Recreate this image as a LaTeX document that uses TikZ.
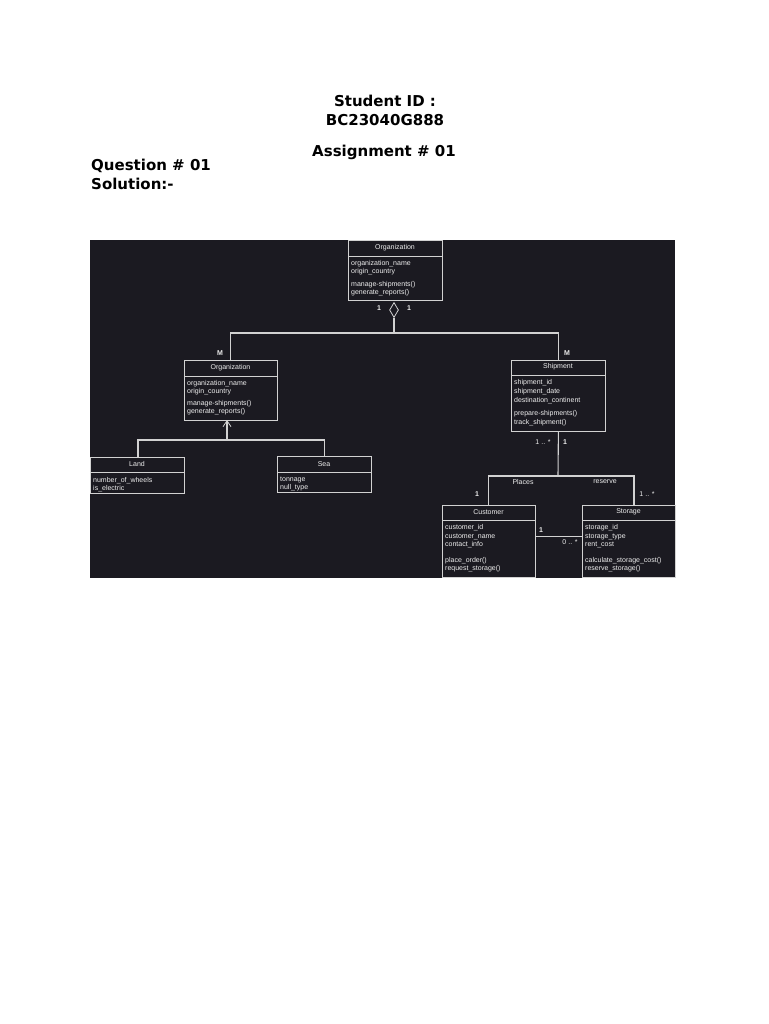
\documentclass[tikz,border=0pt]{standalone}
\usepackage{fontspec}
\setmainfont{DejaVu Sans}
\newfontfamily\umlfont{Liberation Sans}
\usetikzlibrary{shapes.geometric,arrows.meta,calc}
\definecolor{panel}{HTML}{1B1A21}
\definecolor{edge}{HTML}{D2D2D2}
\definecolor{ink}{HTML}{EEEEEE}
\begin{document}
\begin{tikzpicture}[x=1pt,y=-1pt,
 cls/.style={draw=edge,line width=0.8pt,rectangle,inner sep=0pt,anchor=north west},
 sepline/.style={draw=edge,line width=0.8pt},
 ttl/.style={font=\umlfont\fontsize{7}{8}\selectfont,text=ink,inner sep=0pt},
 mem/.style={font=\umlfont\fontsize{7}{8}\selectfont,text=ink,inner sep=0pt,anchor=west},
 lab/.style={font=\umlfont\fontsize{7}{8}\selectfont,text=ink,inner sep=0pt},
 blab/.style={font=\umlfont\bfseries\fontsize{7}{8}\selectfont,text=ink,inner sep=0pt},
 conn/.style={draw=edge,line width=1.1pt},
 head/.style={font=\bfseries\fontsize{15}{18}\selectfont,inner sep=0pt,text=black}]
\useasboundingbox (0,0) rectangle (768,1024);
\fill[white] (0,0) rectangle (768,1024);

% header
\node[head] (h1) at (385,101) {Student ID :};
\node[head] (h2) at (385,120) {BC23040G888};
\node[head] (h3) at (384,152) {Assignment \# 01};
\node[head,anchor=west] (h4) at (91,166) {Question \# 01};
\node[head,anchor=west] (h5) at (91,184) {Solution:-};

% panel
\fill[panel] (90,240) rectangle (675,578);

% top Organization
\node[cls,minimum width=94pt,minimum height=60pt] (org) at (348,240) {};
\draw[sepline] (348,256) -- (442,256);
\node[ttl] (orgT) at (395,248) {Organization};
\node[mem] (orgA1) at (351,264) {organization\_name};
\node[mem] (orgA2) at (351,272) {origin\_country};
\node[mem] (orgM1) at (351,285) {manage-shipments()};
\node[mem] (orgM2) at (351,293) {generate\_reports()};

% Organization (second)
\node[cls,minimum width=93pt,minimum height=60pt] (org2) at (184,360) {};
\draw[sepline] (184,376) -- (277,376);
\node[ttl] (org2T) at (230.5,368) {Organization};
\node[mem] (org2A1) at (187,384) {organization\_name};
\node[mem] (org2A2) at (187,392) {origin\_country};
\node[mem] (org2M1) at (187,404) {manage-shipments()};
\node[mem] (org2M2) at (187,412) {generate\_reports()};

% Shipment
\node[cls,minimum width=94pt,minimum height=71pt] (ship) at (511,360) {};
\draw[sepline] (511,375) -- (605,375);
\node[ttl] (shipT) at (558,367) {Shipment};
\node[mem] (shipA1) at (514,383) {shipment\_id};
\node[mem] (shipA2) at (514,392) {shipment\_date};
\node[mem] (shipA3) at (514,401) {destination\_continent};
\node[mem] (shipM1) at (514,414) {prepare-shipments()};
\node[mem] (shipM2) at (514,423) {track\_shipment()};

% Land
\node[cls,minimum width=94pt,minimum height=36pt] (land) at (90,457) {};
\draw[sepline] (90,472) -- (184,472);
\node[ttl] (landT) at (137,464) {Land};
\node[mem] (landA1) at (93,481) {number\_of\_wheels};
\node[mem] (landA2) at (93,489) {is\_electric};

% Sea
\node[cls,minimum width=94pt,minimum height=36pt] (sea) at (277,456) {};
\draw[sepline] (277,472) -- (371,472);
\node[ttl] (seaT) at (324,464) {Sea};
\node[mem] (seaA1) at (280,480) {tonnage};
\node[mem] (seaA2) at (280,488) {null\_type};

% Customer
\node[cls,minimum width=93pt,minimum height=72pt] (cust) at (442,505) {};
\draw[sepline] (442,520) -- (535,520);
\node[ttl] (custT) at (488.5,512) {Customer};
\node[mem] (custA1) at (445,528) {customer\_id};
\node[mem] (custA2) at (445,537) {customer\_name};
\node[mem] (custA3) at (445,545) {contact\_info};
\node[mem] (custM1) at (445,561) {place\_order()};
\node[mem] (custM2) at (445,569) {request\_storage()};

% Storage
\node[cls,minimum width=93pt,minimum height=72pt] (stor) at (582,505) {};
\draw[sepline] (582,520) -- (675,520);
\node[ttl] (storT) at (628.5,512) {Storage};
\node[mem] (storA1) at (585,528) {storage\_id};
\node[mem] (storA2) at (585,537) {storage\_type};
\node[mem] (storA3) at (585,545) {rent\_cost};
\node[mem] (storM1) at (585,561) {calculate\_storage\_cost()};
\node[mem] (storM2) at (585,569) {reserve\_storage()};

% aggregation
\node[diamond,draw=edge,line width=0.8pt,fill=panel,inner sep=0pt,minimum width=9pt,minimum height=15pt] (agg) at (394,310) {};
\coordinate (j1) at (394,333);
\draw[conn] (agg.south) -- (j1);
\draw[conn] (org2.north) |- (j1) -| (ship.north);
\node[blab] (l1) at (379,308) {1};
\node[blab] (l2) at (409,308) {1};
\node[blab] (l3) at (220,353) {M};
\node[blab] (l4) at (567,353) {M};

% generalization
\coordinate (j2) at (227,440);
\coordinate (g2) at (227,420);
\draw[conn,-{Straight Barb[length=6pt,width=8pt,line width=0.8pt]}] (j2) -- (g2);
\coordinate (landTop) at (138,457);
\draw[conn] (landTop) |- (j2) -| (sea.north);

% shipment branches
\coordinate (j3) at (558,476);
\coordinate (storTop) at (634,505);
\draw[conn] (ship.south) -- (j3);
\draw[conn] (cust.north) |- (j3) -| (storTop);
\node[lab] (l5) at (543,442) {1 .. *};
\node[blab] (l6) at (565,442) {1};
\node[lab] (l7) at (523,482) {Places};
\node[lab] (l8) at (605,482) {reserve};
\node[blab] (l9) at (477,494) {1};
\node[lab] (l10) at (647,494) {1 .. *};

% customer-storage
\draw[conn] ([yshift=5pt]cust.east) -- ([yshift=5pt]stor.west);
\node[blab] (l11) at (541,530) {1};
\node[lab] (l12) at (570,542) {0 .. *};
\end{tikzpicture}
\end{document}
